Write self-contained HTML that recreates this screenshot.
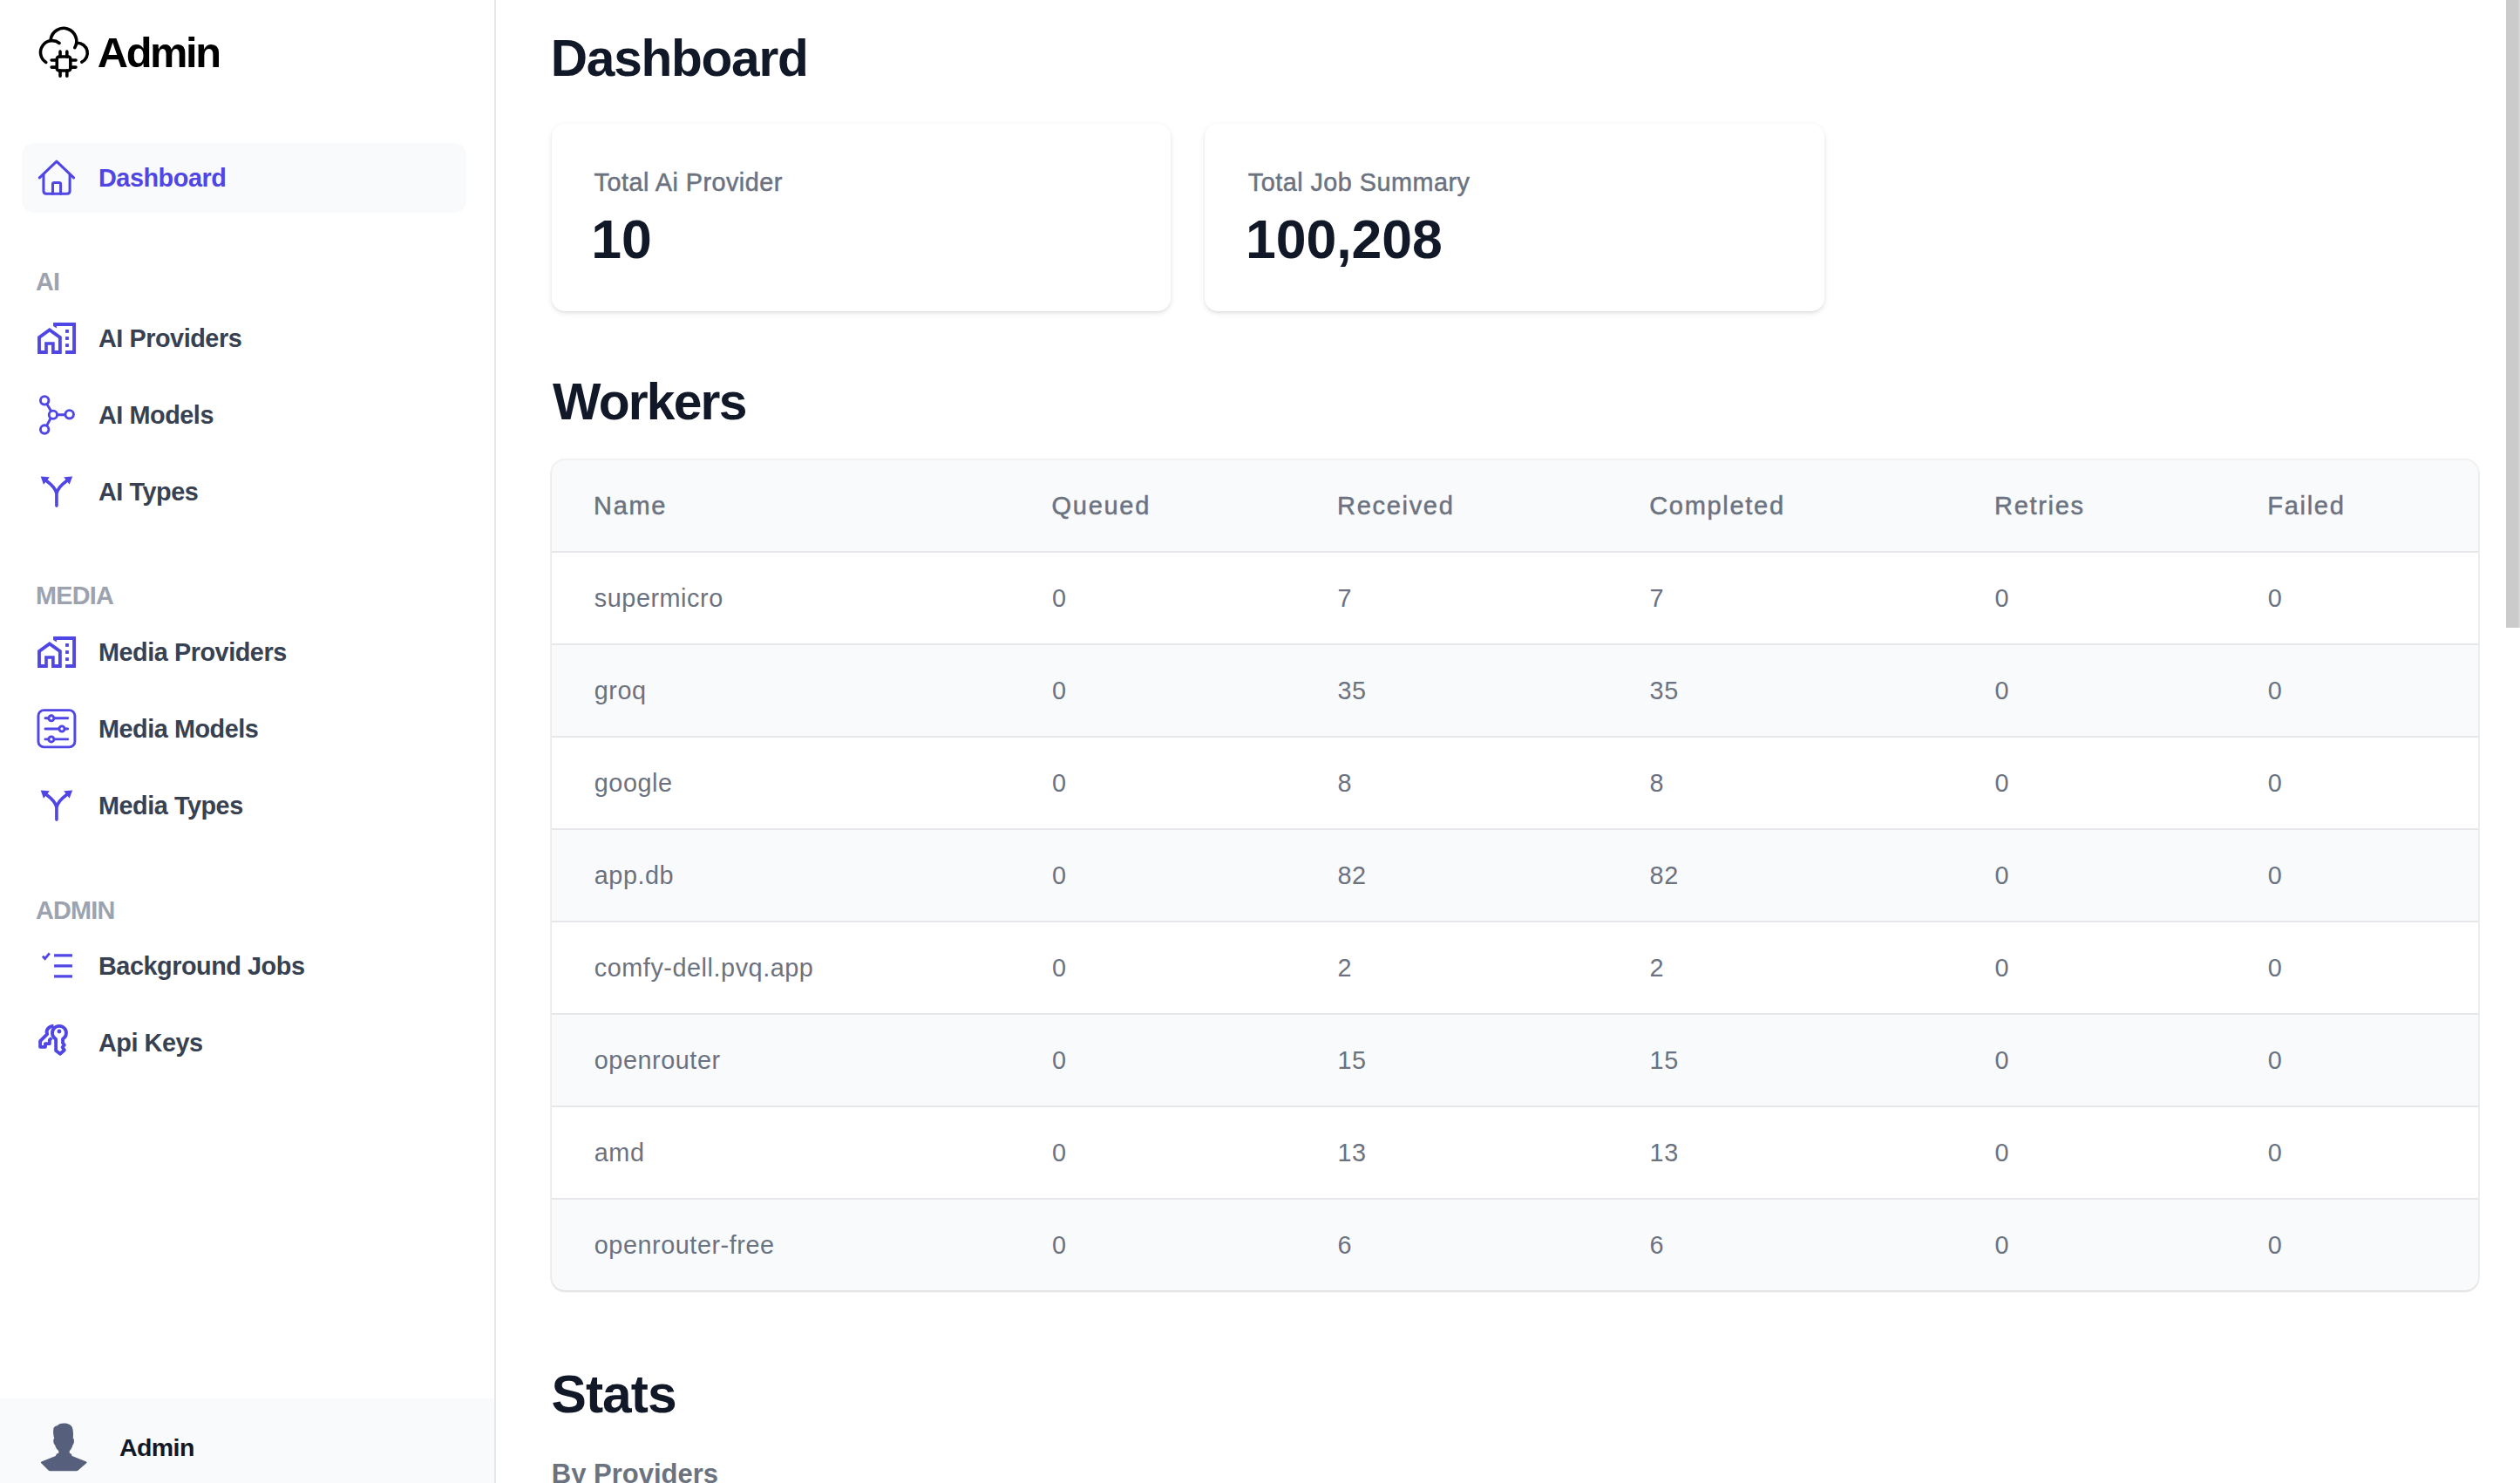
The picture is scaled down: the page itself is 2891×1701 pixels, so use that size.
<!DOCTYPE html>
<html><head><meta charset="utf-8">
<style>
html,body{margin:0;padding:0;}
body{width:2891px;height:1701px;overflow:hidden;position:relative;background:#fff;font-family:"Liberation Sans",sans-serif;}
.a{position:absolute;white-space:nowrap;line-height:1;}
.ic{position:absolute;left:36px;width:60px;height:60px;}
</style></head>
<body>
<div style="position:absolute;left:567px;top:0;width:2px;height:1701px;background:#e5e7eb"></div>
<svg style="position:absolute;left:36px;top:24px;width:70px;height:70px" viewBox="0 0 1483 1483">
 <g fill="none" stroke="#000" stroke-width="76" stroke-linecap="round" stroke-linejoin="round">
  <path d="M470,450 A315,315 0 1 1 1055,650"/>
  <path d="M680,540 A284,284 0 1 0 355,1005"/>
  <path d="M1115,535 A245,245 0 0 1 1225,1000"/>
  <rect x="620" y="870" width="330" height="338" rx="55"/>
  <path d="M700,745V870 M865,745V870 M700,1208V1340 M865,1208V1340 M490,955H620 M490,1125H620 M950,955H1080 M950,1125H1080"/>
 </g></svg>
<div class="a" style="left:111.8px;top:36.2px;font-size:48.77px;letter-spacing:-2.37px;font-weight:bold;color:#000;">Admin</div>
<div style="position:absolute;left:25px;top:164px;width:510px;height:80px;border-radius:14px;background:#f9fafb"></div>
<svg class="ic" style="top:174px" viewBox="0 0 1483 1483"><g fill="none" stroke="#4f46e5" stroke-width="75" stroke-linecap="round" stroke-linejoin="round">
 <path d="M230,740 L715,275 L1200,740"/>
 <path d="M345,640 V1110 Q345,1190 425,1190 H1010 Q1090,1190 1090,1110 V640"/>
 <path d="M605,1190 V920 Q605,880 650,880 H790 Q830,880 830,920 V1190"/></g></svg>
<div class="a" style="left:113.0px;top:189.5px;font-size:28.80px;letter-spacing:-0.45px;font-weight:bold;color:#4f46e5;">Dashboard</div>
<div class="a" style="left:40.9px;top:309.3px;font-size:28.80px;letter-spacing:-0.72px;font-weight:bold;color:#9ca3af;">AI</div>
<svg class="ic" style="top:360px" viewBox="0 0 1483 1483"><g fill="#4f46e5" fill-rule="evenodd">
 <path d="M620,245 H1260 V1135 H965 V1040 H1165 V345 H715 V410 L620,345 Z"/>
 <path d="M175,645 L515,395 L860,645 V1135 H570 V885 H465 V1135 H175 Z M270,690 L515,515 L765,690 V1040 H660 V795 H375 V1040 H270 Z"/>
 <rect x="965" y="445" width="95" height="95"/><rect x="965" y="645" width="95" height="95"/><rect x="965" y="845" width="95" height="95"/></g></svg>
<div class="a" style="left:113.0px;top:373.8px;font-size:28.80px;letter-spacing:-0.45px;font-weight:bold;color:#374151;">AI Providers</div>
<svg class="ic" style="top:445px" viewBox="0 0 1483 1483"><g fill="none" stroke="#4f46e5" stroke-width="72">
 <circle cx="375" cy="355" r="117"/><circle cx="615" cy="760" r="115"/><circle cx="1080" cy="750" r="117"/><circle cx="375" cy="1175" r="117"/>
 <path d="M440,460 L555,650 M540,870 L440,1060 M730,760 H965"/></g></svg>
<div class="a" style="left:113.0px;top:461.8px;font-size:28.80px;letter-spacing:-0.45px;font-weight:bold;color:#374151;">AI Models</div>
<svg class="ic" style="top:535px" viewBox="0 0 1483 1483"><g fill="#4f46e5">
 <path d="M265,285 L515,305 L345,515 Z"/><path d="M1165,285 L920,305 L1080,515 Z"/>
 <path d="M420,400 C580,520 700,640 715,770 V1115 M1010,400 C850,520 730,640 715,770" fill="none" stroke="#4f46e5" stroke-width="90" stroke-linecap="round"/></g></svg>
<div class="a" style="left:113.0px;top:549.8px;font-size:28.80px;letter-spacing:-0.45px;font-weight:bold;color:#374151;">AI Types</div>
<div class="a" style="left:40.9px;top:669.4px;font-size:28.80px;letter-spacing:-0.72px;font-weight:bold;color:#9ca3af;">MEDIA</div>
<svg class="ic" style="top:720px" viewBox="0 0 1483 1483"><g fill="#4f46e5" fill-rule="evenodd">
 <path d="M620,245 H1260 V1135 H965 V1040 H1165 V345 H715 V410 L620,345 Z"/>
 <path d="M175,645 L515,395 L860,645 V1135 H570 V885 H465 V1135 H175 Z M270,690 L515,515 L765,690 V1040 H660 V795 H375 V1040 H270 Z"/>
 <rect x="965" y="445" width="95" height="95"/><rect x="965" y="645" width="95" height="95"/><rect x="965" y="845" width="95" height="95"/></g></svg>
<div class="a" style="left:113.0px;top:733.6px;font-size:28.80px;letter-spacing:-0.45px;font-weight:bold;color:#374151;">Media Providers</div>
<svg class="ic" style="top:805px" viewBox="0 0 1483 1483"><g fill="none" stroke="#4f46e5" stroke-width="72" stroke-linecap="round">
 <rect x="197" y="237" width="1036" height="1046" rx="160"/>
 <path d="M395,465 H1030 M395,765 H1030 M395,1060 H1030"/>
 <circle cx="565" cy="465" r="75" fill="#fff"/><circle cx="865" cy="765" r="75" fill="#fff"/><circle cx="565" cy="1060" r="75" fill="#fff"/></g></svg>
<div class="a" style="left:113.0px;top:821.7px;font-size:28.80px;letter-spacing:-0.45px;font-weight:bold;color:#374151;">Media Models</div>
<svg class="ic" style="top:895px" viewBox="0 0 1483 1483"><g fill="#4f46e5">
 <path d="M265,285 L515,305 L345,515 Z"/><path d="M1165,285 L920,305 L1080,515 Z"/>
 <path d="M420,400 C580,520 700,640 715,770 V1115 M1010,400 C850,520 730,640 715,770" fill="none" stroke="#4f46e5" stroke-width="90" stroke-linecap="round"/></g></svg>
<div class="a" style="left:113.0px;top:909.8px;font-size:28.80px;letter-spacing:-0.45px;font-weight:bold;color:#374151;">Media Types</div>
<div class="a" style="left:40.9px;top:1029.5px;font-size:28.80px;letter-spacing:-0.72px;font-weight:bold;color:#9ca3af;">ADMIN</div>
<svg class="ic" style="top:1080px" viewBox="0 0 1483 1483"><g fill="none" stroke="#4f46e5" stroke-width="80">
 <path d="M320,415 L385,485 L515,330" stroke-width="70"/>
 <path d="M645,390 H1160 M645,690 H1160 M645,985 H1160"/></g></svg>
<div class="a" style="left:113.0px;top:1093.6px;font-size:28.80px;letter-spacing:-0.45px;font-weight:bold;color:#374151;">Background Jobs</div>
<svg class="ic" style="top:1165px" viewBox="0 0 1483 1483"><g fill="none" stroke="#4f46e5" stroke-width="95" stroke-linejoin="round">
 <path d="M695,664 A198,198 0 1 1 890,661 V770 L935,830 L880,895 L935,975 L815,1080 L695,990 Z"/>
 <path d="M630,290 C480,300 400,420 450,520 L250,720 V885 H395 V795 H515 V690 L575,630"/>
 <circle cx="790" cy="445" r="60" fill="#4f46e5" stroke="none"/></g></svg>
<div class="a" style="left:113.0px;top:1181.7px;font-size:28.80px;letter-spacing:-0.45px;font-weight:bold;color:#374151;">Api Keys</div>
<div style="position:absolute;left:0;top:1604px;width:567px;height:97px;background:#f9fafb"></div>
<svg style="position:absolute;left:40px;top:1625px;width:70px;height:70px" viewBox="0 0 1483 1483">
 <path fill="#565f7b" d="M700,160 C800,158 880,190 910,265 C935,330 935,440 928,525 C965,545 960,650 920,690 C905,745 880,800 842,830 V885 L880,900 L905,955 L1250,1090 Q1275,1105 1258,1125 L1050,1305 Q1035,1318 1010,1318 H370 Q345,1318 330,1305 L150,1125 Q135,1105 160,1092 L505,955 L530,900 L578,885 V830 C535,800 505,745 490,690 C445,650 440,545 472,525 C445,440 440,320 460,265 C475,235 510,225 545,215 C580,175 640,160 700,160 Z"/></svg>
<div class="a" style="left:137.0px;top:1645.6px;font-size:28.49px;letter-spacing:-0.56px;font-weight:bold;color:#111827;">Admin</div>
<div class="a" style="left:631.8px;top:38.0px;font-size:58.63px;letter-spacing:-1.28px;font-weight:bold;color:#111827;">Dashboard</div>
<div style="position:absolute;top:142px;height:215px;background:#fff;border-radius:15px;box-shadow:0 2px 6px 0 rgba(0,0,0,0.1),0 2px 4px -2px rgba(0,0,0,0.1);left:633px;width:710px"></div>
<div style="position:absolute;top:142px;height:215px;background:#fff;border-radius:15px;box-shadow:0 2px 6px 0 rgba(0,0,0,0.1),0 2px 4px -2px rgba(0,0,0,0.1);left:1382px;width:711px"></div>
<div class="a" style="left:681.6px;top:195.4px;font-size:28.77px;letter-spacing:0.49px;font-weight:normal;color:#6b7280;-webkit-text-stroke:0.5px #6b7280">Total Ai Provider</div>
<div class="a" style="left:1431.8px;top:195.4px;font-size:28.77px;letter-spacing:0.49px;font-weight:normal;color:#6b7280;-webkit-text-stroke:0.5px #6b7280">Total Job Summary</div>
<div class="a" style="left:678.2px;top:243.0px;font-size:62.57px;letter-spacing:-0.08px;font-weight:bold;color:#111827;">10</div>
<div class="a" style="left:1429.1px;top:243.0px;font-size:62.57px;letter-spacing:-0.08px;font-weight:bold;color:#111827;">100,208</div>
<div class="a" style="left:634.1px;top:431.8px;font-size:58.77px;letter-spacing:-1.81px;font-weight:bold;color:#111827;">Workers</div>
<div style="position:absolute;left:633px;top:528px;width:2210px;height:952px;border-radius:15px;overflow:hidden;background:#f9fafb;box-shadow:0 0 0 2px rgba(0,0,0,0.055),0 2px 3px rgba(0,0,0,0.07)">
<div style="position:absolute;left:0;top:106px;width:2210px;height:104px;background:#fff"></div>
<div style="position:absolute;left:0;top:318px;width:2210px;height:104px;background:#fff"></div>
<div style="position:absolute;left:0;top:530px;width:2210px;height:104px;background:#fff"></div>
<div style="position:absolute;left:0;top:742px;width:2210px;height:104px;background:#fff"></div>
<div style="position:absolute;left:0;top:104px;width:2210px;height:2px;background:#e5e7eb"></div>
<div style="position:absolute;left:0;top:210px;width:2210px;height:2px;background:#e5e7eb"></div>
<div style="position:absolute;left:0;top:316px;width:2210px;height:2px;background:#e5e7eb"></div>
<div style="position:absolute;left:0;top:422px;width:2210px;height:2px;background:#e5e7eb"></div>
<div style="position:absolute;left:0;top:528px;width:2210px;height:2px;background:#e5e7eb"></div>
<div style="position:absolute;left:0;top:634px;width:2210px;height:2px;background:#e5e7eb"></div>
<div style="position:absolute;left:0;top:740px;width:2210px;height:2px;background:#e5e7eb"></div>
<div style="position:absolute;left:0;top:846px;width:2210px;height:2px;background:#e5e7eb"></div>
</div>
<div class="a" style="left:681.0px;top:565.5px;font-size:29.00px;letter-spacing:1.70px;font-weight:normal;color:#6b7280;-webkit-text-stroke:0.5px #6b7280">Name</div>
<div class="a" style="left:1206.6px;top:565.5px;font-size:29.00px;letter-spacing:1.70px;font-weight:normal;color:#6b7280;-webkit-text-stroke:0.5px #6b7280">Queued</div>
<div class="a" style="left:1534.0px;top:565.5px;font-size:29.00px;letter-spacing:1.70px;font-weight:normal;color:#6b7280;-webkit-text-stroke:0.5px #6b7280">Received</div>
<div class="a" style="left:1892.2px;top:565.5px;font-size:29.00px;letter-spacing:1.70px;font-weight:normal;color:#6b7280;-webkit-text-stroke:0.5px #6b7280">Completed</div>
<div class="a" style="left:2288.0px;top:565.5px;font-size:29.00px;letter-spacing:1.70px;font-weight:normal;color:#6b7280;-webkit-text-stroke:0.5px #6b7280">Retries</div>
<div class="a" style="left:2601.3px;top:565.5px;font-size:29.00px;letter-spacing:1.70px;font-weight:normal;color:#6b7280;-webkit-text-stroke:0.5px #6b7280">Failed</div>
<div class="a" style="left:681.8px;top:671.5px;font-size:28.80px;letter-spacing:0.55px;font-weight:normal;color:#6b7280;">supermicro</div>
<div class="a" style="left:1207.0px;top:671.5px;font-size:28.80px;letter-spacing:0.55px;font-weight:normal;color:#6b7280;">0</div>
<div class="a" style="left:1534.4px;top:671.5px;font-size:28.80px;letter-spacing:0.55px;font-weight:normal;color:#6b7280;">7</div>
<div class="a" style="left:1892.6px;top:671.5px;font-size:28.80px;letter-spacing:0.55px;font-weight:normal;color:#6b7280;">7</div>
<div class="a" style="left:2288.4px;top:671.5px;font-size:28.80px;letter-spacing:0.55px;font-weight:normal;color:#6b7280;">0</div>
<div class="a" style="left:2601.7px;top:671.5px;font-size:28.80px;letter-spacing:0.55px;font-weight:normal;color:#6b7280;">0</div>
<div class="a" style="left:681.8px;top:777.5px;font-size:28.80px;letter-spacing:0.55px;font-weight:normal;color:#6b7280;">groq</div>
<div class="a" style="left:1207.0px;top:777.5px;font-size:28.80px;letter-spacing:0.55px;font-weight:normal;color:#6b7280;">0</div>
<div class="a" style="left:1534.4px;top:777.5px;font-size:28.80px;letter-spacing:0.55px;font-weight:normal;color:#6b7280;">35</div>
<div class="a" style="left:1892.6px;top:777.5px;font-size:28.80px;letter-spacing:0.55px;font-weight:normal;color:#6b7280;">35</div>
<div class="a" style="left:2288.4px;top:777.5px;font-size:28.80px;letter-spacing:0.55px;font-weight:normal;color:#6b7280;">0</div>
<div class="a" style="left:2601.7px;top:777.5px;font-size:28.80px;letter-spacing:0.55px;font-weight:normal;color:#6b7280;">0</div>
<div class="a" style="left:681.8px;top:883.5px;font-size:28.80px;letter-spacing:0.55px;font-weight:normal;color:#6b7280;">google</div>
<div class="a" style="left:1207.0px;top:883.5px;font-size:28.80px;letter-spacing:0.55px;font-weight:normal;color:#6b7280;">0</div>
<div class="a" style="left:1534.4px;top:883.5px;font-size:28.80px;letter-spacing:0.55px;font-weight:normal;color:#6b7280;">8</div>
<div class="a" style="left:1892.6px;top:883.5px;font-size:28.80px;letter-spacing:0.55px;font-weight:normal;color:#6b7280;">8</div>
<div class="a" style="left:2288.4px;top:883.5px;font-size:28.80px;letter-spacing:0.55px;font-weight:normal;color:#6b7280;">0</div>
<div class="a" style="left:2601.7px;top:883.5px;font-size:28.80px;letter-spacing:0.55px;font-weight:normal;color:#6b7280;">0</div>
<div class="a" style="left:681.8px;top:989.5px;font-size:28.80px;letter-spacing:0.55px;font-weight:normal;color:#6b7280;">app.db</div>
<div class="a" style="left:1207.0px;top:989.5px;font-size:28.80px;letter-spacing:0.55px;font-weight:normal;color:#6b7280;">0</div>
<div class="a" style="left:1534.4px;top:989.5px;font-size:28.80px;letter-spacing:0.55px;font-weight:normal;color:#6b7280;">82</div>
<div class="a" style="left:1892.6px;top:989.5px;font-size:28.80px;letter-spacing:0.55px;font-weight:normal;color:#6b7280;">82</div>
<div class="a" style="left:2288.4px;top:989.5px;font-size:28.80px;letter-spacing:0.55px;font-weight:normal;color:#6b7280;">0</div>
<div class="a" style="left:2601.7px;top:989.5px;font-size:28.80px;letter-spacing:0.55px;font-weight:normal;color:#6b7280;">0</div>
<div class="a" style="left:681.8px;top:1095.5px;font-size:28.80px;letter-spacing:0.55px;font-weight:normal;color:#6b7280;">comfy-dell.pvq.app</div>
<div class="a" style="left:1207.0px;top:1095.5px;font-size:28.80px;letter-spacing:0.55px;font-weight:normal;color:#6b7280;">0</div>
<div class="a" style="left:1534.4px;top:1095.5px;font-size:28.80px;letter-spacing:0.55px;font-weight:normal;color:#6b7280;">2</div>
<div class="a" style="left:1892.6px;top:1095.5px;font-size:28.80px;letter-spacing:0.55px;font-weight:normal;color:#6b7280;">2</div>
<div class="a" style="left:2288.4px;top:1095.5px;font-size:28.80px;letter-spacing:0.55px;font-weight:normal;color:#6b7280;">0</div>
<div class="a" style="left:2601.7px;top:1095.5px;font-size:28.80px;letter-spacing:0.55px;font-weight:normal;color:#6b7280;">0</div>
<div class="a" style="left:681.8px;top:1201.5px;font-size:28.80px;letter-spacing:0.55px;font-weight:normal;color:#6b7280;">openrouter</div>
<div class="a" style="left:1207.0px;top:1201.5px;font-size:28.80px;letter-spacing:0.55px;font-weight:normal;color:#6b7280;">0</div>
<div class="a" style="left:1534.4px;top:1201.5px;font-size:28.80px;letter-spacing:0.55px;font-weight:normal;color:#6b7280;">15</div>
<div class="a" style="left:1892.6px;top:1201.5px;font-size:28.80px;letter-spacing:0.55px;font-weight:normal;color:#6b7280;">15</div>
<div class="a" style="left:2288.4px;top:1201.5px;font-size:28.80px;letter-spacing:0.55px;font-weight:normal;color:#6b7280;">0</div>
<div class="a" style="left:2601.7px;top:1201.5px;font-size:28.80px;letter-spacing:0.55px;font-weight:normal;color:#6b7280;">0</div>
<div class="a" style="left:681.8px;top:1307.5px;font-size:28.80px;letter-spacing:0.55px;font-weight:normal;color:#6b7280;">amd</div>
<div class="a" style="left:1207.0px;top:1307.5px;font-size:28.80px;letter-spacing:0.55px;font-weight:normal;color:#6b7280;">0</div>
<div class="a" style="left:1534.4px;top:1307.5px;font-size:28.80px;letter-spacing:0.55px;font-weight:normal;color:#6b7280;">13</div>
<div class="a" style="left:1892.6px;top:1307.5px;font-size:28.80px;letter-spacing:0.55px;font-weight:normal;color:#6b7280;">13</div>
<div class="a" style="left:2288.4px;top:1307.5px;font-size:28.80px;letter-spacing:0.55px;font-weight:normal;color:#6b7280;">0</div>
<div class="a" style="left:2601.7px;top:1307.5px;font-size:28.80px;letter-spacing:0.55px;font-weight:normal;color:#6b7280;">0</div>
<div class="a" style="left:681.8px;top:1413.5px;font-size:28.80px;letter-spacing:0.55px;font-weight:normal;color:#6b7280;">openrouter-free</div>
<div class="a" style="left:1207.0px;top:1413.5px;font-size:28.80px;letter-spacing:0.55px;font-weight:normal;color:#6b7280;">0</div>
<div class="a" style="left:1534.4px;top:1413.5px;font-size:28.80px;letter-spacing:0.55px;font-weight:normal;color:#6b7280;">6</div>
<div class="a" style="left:1892.6px;top:1413.5px;font-size:28.80px;letter-spacing:0.55px;font-weight:normal;color:#6b7280;">6</div>
<div class="a" style="left:2288.4px;top:1413.5px;font-size:28.80px;letter-spacing:0.55px;font-weight:normal;color:#6b7280;">0</div>
<div class="a" style="left:2601.7px;top:1413.5px;font-size:28.80px;letter-spacing:0.55px;font-weight:normal;color:#6b7280;">0</div>
<div class="a" style="left:632.6px;top:1569.2px;font-size:60.50px;letter-spacing:-1.00px;font-weight:bold;color:#111827;">Stats</div>
<div class="a" style="left:632.8px;top:1674.7px;font-size:31.00px;letter-spacing:0.00px;font-weight:bold;color:#6b7280;">By Providers</div>
<div style="position:absolute;left:2875px;top:0;width:14px;height:720px;background:#cbcbcb"></div>
<div style="position:absolute;left:2889px;top:0;width:2px;height:720px;background:#d6d6d6"></div>
</body></html>
